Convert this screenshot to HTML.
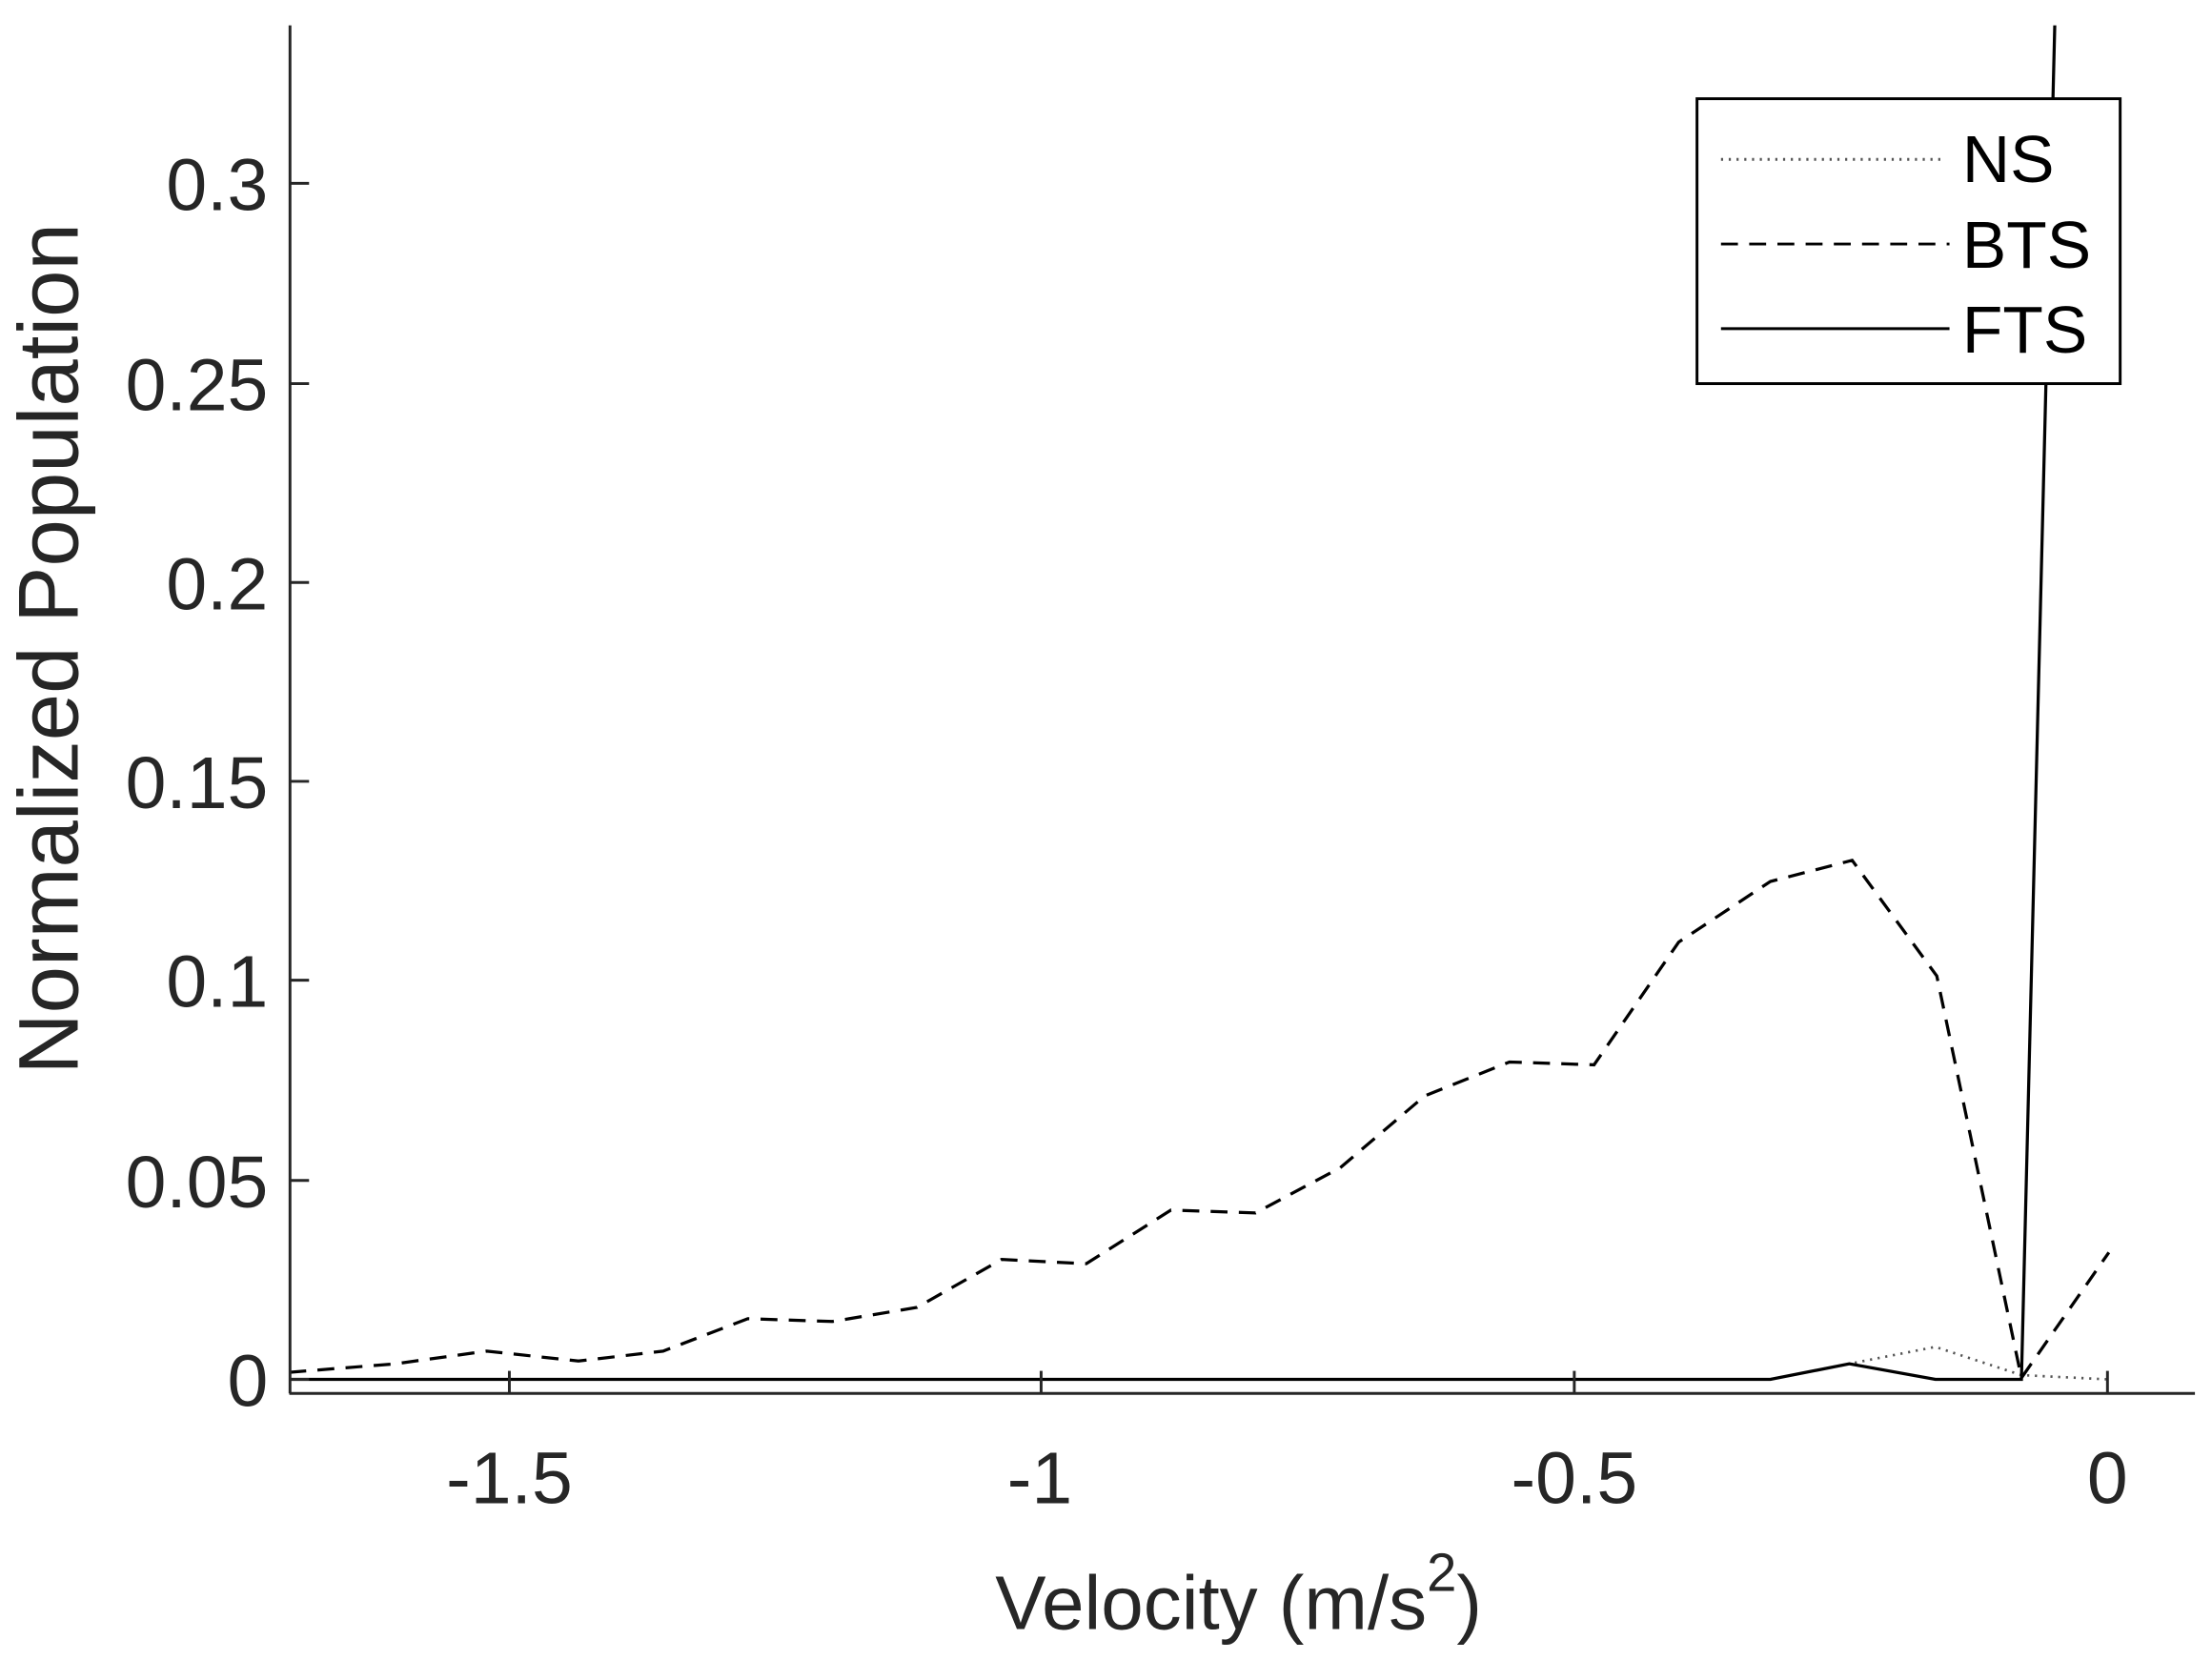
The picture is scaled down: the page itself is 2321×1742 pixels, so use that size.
<!DOCTYPE html>
<html><head><meta charset="utf-8"><style>html,body{margin:0;padding:0;background:#fff}svg{display:block}</style></head>
<body>
<svg width="2321" height="1742" viewBox="0 0 1568 1177" xmlns="http://www.w3.org/2000/svg" font-family="Liberation Sans, Arial, sans-serif">
<rect width="1568" height="1177" fill="#fff"/>
<defs><clipPath id="c"><rect x="205" y="18" width="1352" height="970"/></clipPath></defs>
<g clip-path="url(#c)" fill="none" stroke="#000" stroke-width="2.2">
<polyline stroke-dasharray="1.5,4" stroke="#555" stroke-width="1.8" points="205,978 1255,978 1372,955 1433,975 1494,978"/>
<polyline stroke-dasharray="12,8" points="205,973 280,967 345,958 410,965 470,958 530,935 590,937 650,927 710,893 770,896 830,858 890,860 950,828 1010,777 1070,753 1130,755 1190,668 1255,625 1313,610 1373,692 1433,977 1495,888"/>
<polyline points="205,978 1255,978 1311,967 1372,978 1433,978 1462,-200"/>
</g>
<g stroke="#262626" stroke-width="2" fill="none">
<line x1="205.5" y1="18" x2="205.5" y2="988"/>
<line x1="205" y1="988" x2="1556" y2="988"/>
<line x1="205" y1="130" x2="219" y2="130"/><line x1="205" y1="272" x2="219" y2="272"/><line x1="205" y1="413" x2="219" y2="413"/><line x1="205" y1="554" x2="219" y2="554"/><line x1="205" y1="695" x2="219" y2="695"/><line x1="205" y1="837" x2="219" y2="837"/><line x1="205" y1="978" x2="219" y2="978"/>
<line x1="361" y1="988" x2="361" y2="972"/><line x1="738" y1="988" x2="738" y2="972"/><line x1="1116" y1="988" x2="1116" y2="972"/><line x1="1494" y1="988" x2="1494" y2="972"/>
</g>
<g fill="#262626" font-size="52" text-anchor="end">
<text x="190" y="149">0.3</text><text x="190" y="291">0.25</text><text x="190" y="432">0.2</text><text x="190" y="573">0.15</text><text x="190" y="714">0.1</text><text x="190" y="856">0.05</text><text x="190" y="997">0</text>
</g>
<g fill="#262626" font-size="52" text-anchor="middle">
<text x="361" y="1066">-1.5</text><text x="737" y="1066">-1</text><text x="1116" y="1066">-0.5</text><text x="1494" y="1066">0</text>
<text x="878" y="1155" font-size="54">Velocity (m/s<tspan font-size="38" dy="-27">2</tspan><tspan dy="27">)</tspan></text>
<text transform="translate(55,460) rotate(-90)" font-size="60">Normalized Population</text>
</g>
<rect x="1203" y="70" width="300" height="202" fill="#fff" stroke="#000" stroke-width="2"/>
<g fill="none" stroke="#000" stroke-width="2">
<line x1="1220" y1="113" x2="1378" y2="113" stroke-dasharray="1.5,4" stroke="#555"/>
<line x1="1220" y1="173" x2="1382" y2="173" stroke-dasharray="12,8"/>
<line x1="1220" y1="233" x2="1382" y2="233"/>
</g>
<g fill="#000" font-size="47">
<text x="1391" y="129">NS</text><text x="1391" y="190">BTS</text><text x="1391" y="250">FTS</text>
</g>
</svg>
</body></html>
